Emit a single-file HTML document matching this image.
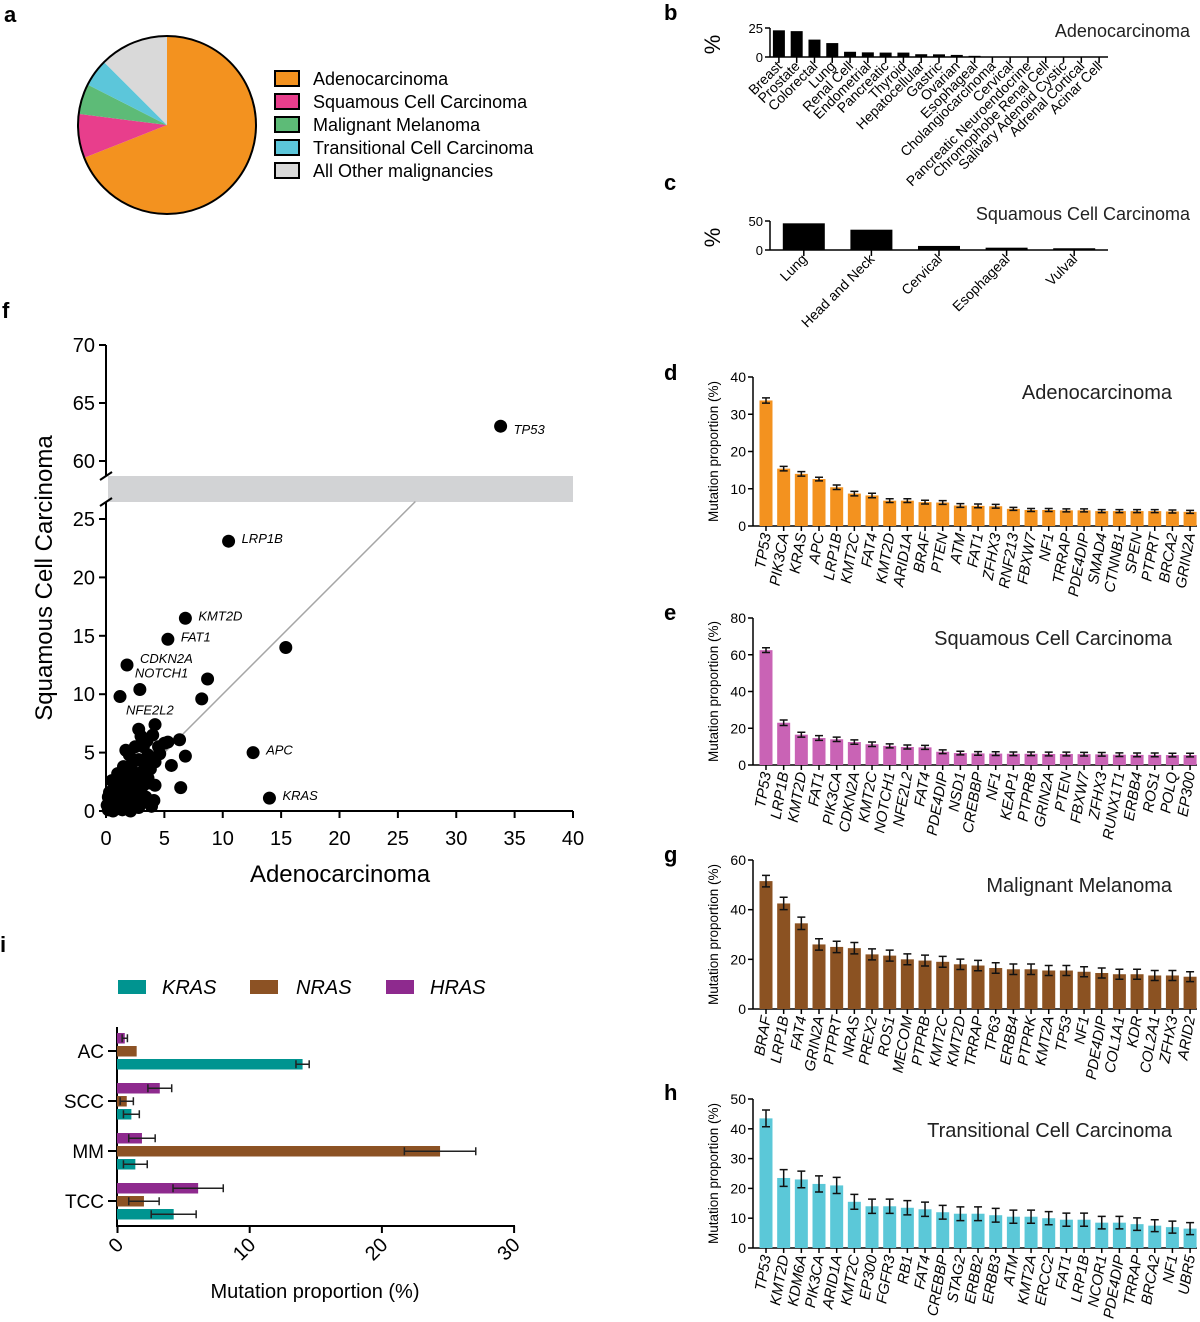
<!DOCTYPE html>
<html><head><meta charset="utf-8">
<style>
body{margin:0;background:#fff;}
svg{display:block;font-family:"Liberation Sans",Arial,sans-serif;}
</style></head>
<body>
<svg id="fig" width="1200" height="1322" viewBox="0 0 1200 1322" xmlns="http://www.w3.org/2000/svg">
<g font-weight="bold" font-size="22">
<text x="4" y="22">a</text>
<text x="664" y="20">b</text>
<text x="664" y="190">c</text>
<text x="2" y="318">f</text>
<text x="664" y="380">d</text>
<text x="664" y="620">e</text>
<text x="664" y="862">g</text>
<text x="664" y="1100">h</text>
<text x="0" y="952">i</text>
</g>
</svg>
<script>
// ---------- Panel a: pie ----------
const pieCats = ["Adenocarcinoma","Squamous Cell Carcinoma","Malignant Melanoma","Transitional Cell Carcinoma","All Other malignancies"];
const pieVals = [69, 8, 5.5, 5, 12.5];
const pieColors = ["#f3921f","#e83e8c","#5dbb77","#5cc6da","#d9d9d9"];

// ---------- Panel b ----------
const bCats = ["Breast","Prostate","Colorectal","Lung","Renal Cell","Endometrial","Pancreatic","Thyroid","Hepatocellular","Gastric","Ovarian","Esophageal","Cholangiocarcinoma","Cervical","Pancreatic Neuroendocrine","Chromophobe Renal Cell","Salivary Adenoid Cystic","Adrenal Cortical","Acinar Cell"];
const bVals = [23,22.3,15,12,4.5,4,3.8,3.8,2.4,2.3,1.8,1,0.3,0.2,0.2,0.2,0.1,0.1,0.1];
const bTicks = [0,25];
// ---------- Panel c ----------
const cCats = ["Lung","Head and Neck","Cervical","Esophageal","Vulval"];
const cVals = [46,35,7,4,3];
const cTicks = [0,50];

// ---------- Panel d ----------
const dGenes = ["TP53","PIK3CA","KRAS","APC","LRP1B","KMT2C","FAT4","KMT2D","ARID1A","BRAF","PTEN","ATM","FAT1","ZFHX3","RNF213","FBXW7","NF1","TRRAP","PDE4DIP","SMAD4","CTNNB1","SPEN","PTPRT","BRCA2","GRIN2A"];
const dVals = [33.7,15.4,14,12.6,10.4,8.7,8.2,6.8,6.8,6.4,6.3,5.5,5.4,5.3,4.6,4.3,4.3,4.2,4.2,4.0,4.0,4.0,4.0,3.9,3.8];
const dErr = [0.7,0.6,0.6,0.5,0.6,0.6,0.6,0.5,0.5,0.5,0.5,0.5,0.5,0.5,0.4,0.4,0.4,0.4,0.4,0.4,0.4,0.4,0.4,0.4,0.4];
const dTicks = [0,10,20,30,40];
// ---------- Panel e ----------
const eGenes = ["TP53","LRP1B","KMT2D","FAT1","PIK3CA","CDKN2A","KMT2C","NOTCH1","NFE2L2","FAT4","PDE4DIP","NSD1","CREBBP","NF1","KEAP1","PTPRB","GRIN2A","PTEN","FBXW7","ZFHX3","RUNX1T1","ERBB4","ROS1","POLQ","EP300"];
const eVals = [62.5,23,16.5,14.7,14,12.5,11.3,10.4,9.8,9.6,7.2,6.5,6.3,6.2,6.1,6.1,6.0,6.0,5.9,5.8,5.6,5.5,5.5,5.4,5.4];
const eErr = [1.3,1.5,1.3,1.3,1.2,1.2,1.2,1.1,1.1,1.1,1.0,1.0,1.0,1.0,1.0,1.0,1.0,1.0,1.0,1.0,1.0,1.0,1.0,1.0,1.0];
const eTicks = [0,20,40,60,80];
// ---------- Panel g ----------
const gGenes = ["BRAF","LRP1B","FAT4","GRIN2A","PTPRT","NRAS","PREX2","ROS1","MECOM","PTPRB","KMT2C","KMT2D","TRRAP","TP63","ERBB4","PTPRK","KMT2A","TP53","NF1","PDE4DIP","COL1A1","KDR","COL2A1","ZFHX3","ARID2"];
const gVals = [51.5,42.5,34.5,26,25,24.5,22,21.5,20,19.5,19,18,17.5,16.5,16,16,15.5,15.5,15,14.5,14,14,13.5,13.5,13];
const gErr = [2.3,2.5,2.5,2.3,2.3,2.3,2.2,2.2,2.2,2.2,2.2,2.1,2.1,2.1,2.1,2.1,2.0,2.0,2.0,2.0,2.0,2.0,2.0,2.0,2.0];
const gTicks = [0,20,40,60];
// ---------- Panel h ----------
const hGenes = ["TP53","KMT2D","KDM6A","PIK3CA","ARID1A","KMT2C","EP300","FGFR3","RB1","FAT4","CREBBP","STAG2","ERBB2","ERBB3","ATM","KMT2A","ERCC2","FAT1","LRP1B","NCOR1","PDE4DIP","TRRAP","BRCA2","NF1","UBR5"];
const hVals = [43.5,23.5,23,21.5,21,15.5,14,14,13.5,13,12,11.5,11.5,11,10.5,10.5,10,9.5,9.5,8.5,8.5,8,7.5,7,6.5];
const hErr = [2.8,2.8,2.8,2.7,2.7,2.5,2.4,2.4,2.4,2.4,2.3,2.3,2.3,2.3,2.2,2.2,2.2,2.2,2.2,2.1,2.1,2.1,2.0,2.0,2.0];
const hTicks = [0,10,20,30,40,50];

// ---------- Panel f: scatter ----------
const fLabels = ["TP53","LRP1B","KMT2D","FAT1","CDKN2A","NOTCH1","NFE2L2","APC","KRAS"];
const fLabX = [33.8,10.5,6.8,5.3,1.8,2.9,1.2,12.6,14.0];
const fLabY = [63,23.1,16.5,14.7,12.5,10.4,9.8,5.0,1.1];
const fX = [15.4,8.7,8.2,6.3,6.8,5.6,6.4,4.2,2.8,1.7,3.0,3.5,4.0,4.5,5.0,3.2,2.5,2.0,3.6,4.2,1.5,2.2,2.8,3.3,3.8,1.0,1.4,1.8,2.4,3.0,3.6,4.2,0.5,0.8,1.2,1.6,2.0,2.6,3.2,3.7,0.3,0.6,1.0,1.4,1.9,2.4,2.9,3.4,4.1,0.2,0.5,0.9,1.3,1.7,2.2,2.7,3.1,0.1,0.4,0.7,1.1,1.5,1.9,2.3,2.8,0.2,0.6,1.0,1.4,1.8,1.2,2.6,3.4,2.1,4.6,5.3,3.9];
const fY = [14.0,11.3,9.6,6.1,4.7,3.9,2.0,7.4,7.0,5.2,6.4,6.0,6.5,5.5,5.8,5.5,5.5,4.8,4.8,4.2,3.8,4.0,4.4,4.0,3.6,3.2,3.4,3.0,3.2,3.3,2.8,2.2,2.6,2.4,2.8,2.4,2.2,2.6,2.2,2.4,1.6,1.8,2.0,1.6,1.4,1.8,1.6,1.2,0.9,1.2,1.0,1.2,1.0,0.8,1.0,1.2,0.7,0.5,0.4,0.6,0.3,0.6,0.4,0.5,0.3,0.1,0.0,0.2,0.1,0.3,1.3,0.8,1.0,0.0,4.9,5.9,0.4];

// ---------- Panel i ----------
const iCats = ["AC","SCC","MM","TCC"];
const iKras = [14.0,1.05,1.35,4.25];
const iKrasErr = [0.5,0.6,0.9,1.7];
const iNras = [1.45,0.7,24.4,2.0];
const iNrasErr = [0,0.5,2.7,1.15];
const iHras = [0.55,3.2,1.85,6.1];
const iHrasErr = [0.2,0.9,1.0,1.9];
const iTicks = [0,10,20,30];

const NS = "http://www.w3.org/2000/svg";
const svg = document.getElementById('fig');
function mk(tag, attrs, parent, txt){
  const e = document.createElementNS(NS, tag);
  for (const k in attrs) e.setAttribute(k, attrs[k]);
  if (txt !== undefined) e.textContent = txt;
  (parent || svg).appendChild(e);
  return e;
}
function grp(name){
  const g = mk('g', {});
  
  
  return g;
}

// ----- pie -----
(function(){
  const g = grp('pie-chart');
  const cx = 167, cy = 125, r = 89;
  const total = pieVals.reduce((a,b)=>a+b,0);
  let a0 = 0;
  pieVals.forEach((v,i)=>{
    const a1 = a0 + v/total*2*Math.PI;
    const x0 = cx + r*Math.sin(a0), y0 = cy - r*Math.cos(a0);
    const x1 = cx + r*Math.sin(a1), y1 = cy - r*Math.cos(a1);
    const large = (a1-a0) > Math.PI ? 1 : 0;
    const p = mk('path', {d:`M${cx},${cy} L${x0},${y0} A${r},${r} 0 ${large} 1 ${x1},${y1} Z`, fill:pieColors[i]}, g);
    
    
    a0 = a1;
  });
  mk('circle', {cx, cy, r, fill:'none', stroke:'#000', 'stroke-width':2}, g);
  const lg = grp('pie-legend');
  pieCats.forEach((c,i)=>{
    const y = 71 + i*23;
    const s = mk('rect', {x:275, y:y, width:24, height:15, fill:pieColors[i], stroke:'#000', 'stroke-width':2}, lg);
    
    
    const t = mk('text', {x:313, y:y+14, 'font-size':18}, lg, c);
    
    
  });
})();

// ----- small bar charts b, c -----
function smallBars(name, cats, vals, ticks, x0, x1, yBase, yTop, barW, title, titleY, labelSize){
  const g = grp(name);
  const maxT = ticks[ticks.length-1];
  const sy = v => yBase - v/maxT*(yBase-yTop);
  const step = (x1 - x0)/cats.length;
  mk('line', {x1:x0, y1:yTop, x2:x0, y2:yBase, stroke:'#000', 'stroke-width':1.5}, g);
  mk('line', {x1:x0, y1:yBase, x2:x1, y2:yBase, stroke:'#000', 'stroke-width':1.5}, g);
  ticks.forEach(t=>{
    mk('line', {x1:x0-5, y1:sy(t), x2:x0, y2:sy(t), stroke:'#000', 'stroke-width':1.5}, g);
    mk('text', {x:x0-7, y:sy(t)+5, 'font-size':13, 'text-anchor':'end'}, g, t);
  });
  cats.forEach((c,i)=>{
    const cx = x0 + step*(i+0.5);
    const b = mk('rect', {x:cx-barW/2, y:sy(vals[i]), width:barW, height:yBase-sy(vals[i]), fill:'#000'}, g);
    
    
    mk('line', {x1:cx, y1:yBase, x2:cx, y2:yBase+6, stroke:'#000', 'stroke-width':1.5}, g);
    mk('text', {x:cx+4, y:yBase+10, 'font-size':labelSize, 'text-anchor':'end', transform:`rotate(-45 ${cx+4} ${yBase+10})`}, g, c);
  });
  mk('text', {x:720, y:(yBase+yTop)/2+2, 'font-size':22, 'text-anchor':'middle', transform:`rotate(-90 720 ${(yBase+yTop)/2+2})`}, g, '%');
  mk('text', {x:1190, y:titleY, 'font-size':18, 'text-anchor':'end', fill:'#222'}, g, title);
}
smallBars('bar-chart-b', bCats, bVals, bTicks, 770, 1108, 57, 28, 12, 'Adenocarcinoma', 37, 14);
smallBars('bar-chart-c', cCats, cVals, cTicks, 770, 1108, 250, 221, 42, 'Squamous Cell Carcinoma', 220, 14);

// ----- mutation bar charts d,e,g,h -----
function mutBars(name, genes, vals, errs, ticks, yBase, yTop, color, title, titleY){
  const g = grp(name);
  const x0 = 753, first = 766, stepX = 17.67, bw = 13;
  const maxT = ticks[ticks.length-1];
  const sy = v => yBase - v/maxT*(yBase-yTop);
  mk('line', {x1:x0, y1:yTop, x2:x0, y2:yBase, stroke:'#000', 'stroke-width':1.5}, g);
  mk('line', {x1:x0, y1:yBase, x2:1197, y2:yBase, stroke:'#000', 'stroke-width':1.5}, g);
  ticks.forEach(t=>{
    mk('line', {x1:x0-5, y1:sy(t), x2:x0, y2:sy(t), stroke:'#000', 'stroke-width':1.5}, g);
    mk('text', {x:x0-7, y:sy(t)+5, 'font-size':14, 'text-anchor':'end'}, g, t);
  });
  genes.forEach((gn,i)=>{
    const cx = first + stepX*i;
    const b = mk('rect', {x:cx-bw/2, y:sy(vals[i]), width:bw, height:yBase-sy(vals[i]), fill:color}, g);
    
    
    const yl = sy(vals[i]+errs[i]), yh = sy(vals[i]-errs[i]);
    mk('path', {d:`M${cx},${yl} V${yh} M${cx-4},${yl} H${cx+4} M${cx-4},${yh} H${cx+4}`, stroke:'#111', 'stroke-width':1.5, fill:'none'}, g);
    mk('line', {x1:cx, y1:yBase, x2:cx, y2:yBase+5, stroke:'#000', 'stroke-width':1.5}, g);
    mk('text', {x:cx+5, y:yBase+8, 'font-size':15, 'font-style':'italic', 'text-anchor':'end', transform:`rotate(-80 ${cx+5} ${yBase+8})`}, g, gn);
  });
  const my = (yBase+yTop)/2;
  mk('text', {x:718, y:my, 'font-size':13.5, 'text-anchor':'middle', transform:`rotate(-90 718 ${my})`}, g, 'Mutation proportion (%)');
  mk('text', {x:1172, y:titleY, 'font-size':20, 'text-anchor':'end', fill:'#222'}, g, title);
}
mutBars('bar-chart-d', dGenes, dVals, dErr, dTicks, 526, 377, '#f3921f', 'Adenocarcinoma', 399);
mutBars('bar-chart-e', eGenes, eVals, eErr, eTicks, 765, 618, '#c963b5', 'Squamous Cell Carcinoma', 645);
mutBars('bar-chart-g', gGenes, gVals, gErr, gTicks, 1009, 860, '#8b5222', 'Malignant Melanoma', 892);
mutBars('bar-chart-h', hGenes, hVals, hErr, hTicks, 1248, 1099, '#5bc8d8', 'Transitional Cell Carcinoma', 1137);

// ----- scatter f -----
(function(){
  const g = grp('scatter-chart-f');
  const sx = v => 106 + v*11.675;
  const syL = v => 811 - v*11.68;
  const syU = v => 461 - (v-60)*11.6;
  const sy = v => v > 40 ? syU(v) : syL(v);
  const band = mk('rect', {x:108, y:476, width:465, height:26, fill:'#d2d3d5'}, g);
  
  
  mk('line', {x1:sx(0), y1:syL(0), x2:sx(26.5), y2:syL(26.5), stroke:'#a6a6a6', 'stroke-width':1.5}, g);
  mk('line', {x1:106, y1:345, x2:106, y2:476, stroke:'#000', 'stroke-width':2}, g);
  mk('line', {x1:106, y1:502, x2:106, y2:812, stroke:'#000', 'stroke-width':2}, g);
  mk('line', {x1:100, y1:480, x2:112, y2:472, stroke:'#000', 'stroke-width':2}, g);
  mk('line', {x1:100, y1:506, x2:112, y2:498, stroke:'#000', 'stroke-width':2}, g);
  mk('line', {x1:105, y1:811, x2:573, y2:811, stroke:'#000', 'stroke-width':2}, g);
  [0,5,10,15,20,25].forEach(t=>{
    mk('line', {x1:99, y1:syL(t), x2:106, y2:syL(t), stroke:'#000', 'stroke-width':2}, g);
    mk('text', {x:95, y:syL(t)+7, 'font-size':20, 'text-anchor':'end'}, g, t);
  });
  [60,65,70].forEach(t=>{
    mk('line', {x1:99, y1:syU(t), x2:106, y2:syU(t), stroke:'#000', 'stroke-width':2}, g);
    mk('text', {x:95, y:syU(t)+7, 'font-size':20, 'text-anchor':'end'}, g, t);
  });
  [0,5,10,15,20,25,30,35,40].forEach(t=>{
    mk('line', {x1:sx(t), y1:811, x2:sx(t), y2:818, stroke:'#000', 'stroke-width':2}, g);
    mk('text', {x:sx(t), y:845, 'font-size':20, 'text-anchor':'middle'}, g, t);
  });
  fX.forEach((x,i)=>{
    const c = mk('circle', {cx:sx(x), cy:sy(fY[i]), r:6.5, fill:'#000'}, g);
    
    
  });
  fLabels.forEach((l,i)=>{
    const c = mk('circle', {cx:sx(fLabX[i]), cy:sy(fLabY[i]), r:6.5, fill:'#000'}, g);
    
    
    let tx = sx(fLabX[i]) + 13, ty = sy(fLabY[i]) + 2;
    if (l === 'NFE2L2') { tx = sx(fLabX[i]) + 6; ty = sy(fLabY[i]) + 18; }
    if (l === 'NOTCH1') { tx = sx(fLabX[i]) - 5; ty = sy(fLabY[i]) - 12; }
    if (l === 'CDKN2A') { ty = sy(fLabY[i]) - 2; }
    if (l === 'TP53') { ty = sy(fLabY[i]) + 8; }
    mk('text', {x:tx, y:ty, 'font-size':13, 'font-style':'italic'}, g, l);
  });
  mk('text', {x:340, y:882, 'font-size':24, 'text-anchor':'middle'}, g, 'Adenocarcinoma');
  mk('text', {x:52, y:578, 'font-size':24, 'text-anchor':'middle', transform:'rotate(-90 52 578)'}, g, 'Squamous Cell Carcinoma');
})();

// ----- panel i -----
(function(){
  const g = grp('bar-chart-i');
  const sx = v => 117.5 + v*13.22;
  const centers = [1051,1101,1151,1201];
  const series = [
    {name:'HRAS', vals:iHras, err:iHrasErr, color:'#8e2a8e', off:-13},
    {name:'NRAS', vals:iNras, err:iNrasErr, color:'#8c5224', off:0},
    {name:'KRAS', vals:iKras, err:iKrasErr, color:'#009490', off:13}
  ];
  mk('line', {x1:117, y1:1027, x2:117, y2:1227, stroke:'#000', 'stroke-width':2}, g);
  mk('line', {x1:116, y1:1226, x2:515, y2:1226, stroke:'#000', 'stroke-width':2}, g);
  iTicks.forEach(t=>{
    mk('line', {x1:sx(t), y1:1226, x2:sx(t), y2:1233, stroke:'#000', 'stroke-width':2}, g);
    mk('text', {x:sx(t)+7, y:1246, 'font-size':20, 'text-anchor':'end', transform:`rotate(-45 ${sx(t)+7} 1246)`}, g, t);
  });
  iCats.forEach((c,ci)=>{
    mk('line', {x1:108, y1:centers[ci], x2:117, y2:centers[ci], stroke:'#000', 'stroke-width':2}, g);
    mk('text', {x:104, y:centers[ci]+7, 'font-size':19, 'text-anchor':'end'}, g, c);
    series.forEach(s=>{
      const y = centers[ci] + s.off - 5;
      const b = mk('rect', {x:117, y:y, width:sx(s.vals[ci])-117, height:10.5, fill:s.color}, g);
      
      
      if (s.err[ci] > 0) {
        const xl = sx(s.vals[ci]-s.err[ci]), xh = sx(s.vals[ci]+s.err[ci]), ym = y+5.25;
        mk('path', {d:`M${xl},${ym} H${xh} M${xl},${ym-4} V${ym+4} M${xh},${ym-4} V${ym+4}`, stroke:'#222', 'stroke-width':1.5, fill:'none'}, g);
      }
    });
  });
  const lg = grp('legend-i');
  [['KRAS','#009490',118,162],['NRAS','#8c5224',250,296],['HRAS','#8e2a8e',386,430]].forEach(l=>{
    const r = mk('rect', {x:l[2], y:980, width:28, height:14, fill:l[1]}, lg);
    
    
    mk('text', {x:l[3], y:994, 'font-size':20, 'font-style':'italic'}, lg, l[0]);
  });
  mk('text', {x:315, y:1298, 'font-size':20, 'text-anchor':'middle'}, g, 'Mutation proportion (%)');
})();
</script>
</body></html>
